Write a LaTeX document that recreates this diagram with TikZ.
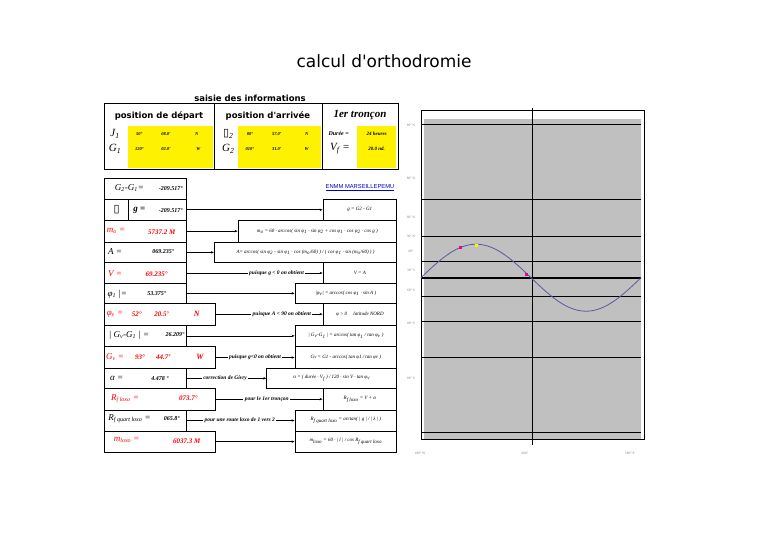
\documentclass[tikz,border=0pt]{standalone}
\usepackage{fontspec}
\setmainfont{Liberation Serif}
\newfontfamily\dejavu{DejaVu Sans}
\newfontfamily\libsans{Liberation Sans}
\usetikzlibrary{arrows.meta}

\definecolor{plotgray}{RGB}{192,192,192}
\definecolor{curveblue}{RGB}{90,90,160}
\definecolor{linkblue}{RGB}{0,0,204}

\tikzset{
  cell/.style={draw, line width=0.7pt, inner sep=0pt},
  form/.style={draw, line width=0.8pt, inner sep=0pt, font=\fontsize{5}{6}\selectfont\itshape},
  head/.style={inner sep=0pt, font=\dejavu\bfseries\fontsize{8.5}{9}\selectfont},
  lab/.style={inner sep=0pt, font=\fontsize{9}{10}\selectfont\itshape},
  val/.style={inner sep=0pt, font=\fontsize{6}{7}\selectfont\bfseries\itshape},
  rlab/.style={lab, text=red},
  rval/.style={inner sep=0pt, text=red, font=\fontsize{7}{8}\selectfont\bfseries\itshape},
  elab/.style={fill=white, inner sep=1.5pt, font=\fontsize{5.5}{6}\selectfont\bfseries\itshape},
  arr/.style={-{Stealth[length=3pt,width=2.4pt]}, line width=0.7pt},
  small/.style={inner sep=0pt, font=\fontsize{4.5}{5}\selectfont\bfseries\itshape},
  axl/.style={inner sep=0pt, text=gray, font=\fontsize{3.5}{4}\selectfont},
  mk/.style={inner sep=0pt, minimum size=3pt},
}

\begin{document}
\begin{tikzpicture}[x=1pt, y=-1pt]
    \useasboundingbox (0,0) rectangle (768,543);

    % title
    \node[font=\dejavu\fontsize{17}{20}\selectfont] (title) at (384,61) {calcul d'orthodromie};
    \node[head] (saisie) at (250,98.5) {saisie des informations};

    % input table
    \fill[yellow] (128,125.7) rectangle (213,168);
    \fill[yellow] (238,125.7) rectangle (321,168);
    \fill[yellow] (357,125.7) rectangle (396,168);
    \node[cell, minimum width=110pt, minimum height=66pt] (dep) at (159,136.7) {};
    \node[cell, minimum width=108pt, minimum height=66pt] (arr) at (268,136.7) {};
    \node[cell, minimum width=76pt, minimum height=66pt] (tron) at (360,136.7) {};
    \node[head] (hdep) at (159,115.5) {position de départ};
    \node[head] (harr) at (268,115.5) {position d'arrivée};
    \node[inner sep=0pt, font=\fontsize{11}{12}\selectfont\bfseries\itshape] (htron) at (360,115.5) {1er tronçon};

    \node[lab, font=\fontsize{11}{12}\selectfont\itshape] (jdep) at (115,133.7) {J\textsubscript{1}};
    \node[small] (latd1) at (139.3,133.7) {50°};
    \node[small] (latd2) at (166,133.7) {08.0'};
    \node[small] (latd3) at (196.7,133.7) {N};
    \node[lab, font=\fontsize{11}{12}\selectfont\itshape] (gdep) at (115,149) {G\textsubscript{1}};
    \node[small] (lond1) at (139.3,149) {120°};
    \node[small] (lond2) at (166,149) {02.0'};
    \node[small] (lond3) at (198.3,149) {W};

    \node[lab, font=\fontsize{11}{12}\selectfont\itshape] (jarr) at (228.3,133.7) {{\dejavu\upshape ▯}\textsubscript{2}};
    \node[small] (lata1) at (250,133.7) {00°};
    \node[small] (lata2) at (276.7,133.7) {57.0'};
    \node[small] (lata3) at (306.7,133.7) {N};
    \node[lab, font=\fontsize{11}{12}\selectfont\itshape] (garr) at (228.3,149) {G\textsubscript{2}};
    \node[small] (lona1) at (250,149) {010°};
    \node[small] (lona2) at (276.7,149) {31.0'};
    \node[small] (lona3) at (306.7,149) {W};

    \node[inner sep=0pt, font=\fontsize{6}{7}\selectfont\bfseries\itshape] (duree) at (338.7,133.7) {Durée =};
    \node[small, font=\fontsize{5}{6}\selectfont\bfseries\itshape] (dureev) at (376.7,133.7) {24 heures};
    \node[lab, font=\fontsize{11}{12}\selectfont\itshape] (vit) at (340,149) {V\textsubscript{f} =};
    \node[small, font=\fontsize{5}{6}\selectfont\bfseries\itshape] (vitv) at (376.7,149) {20.0 nd.};

    \node[inner sep=0pt, text=linkblue, font=\libsans\fontsize{5.8}{6}\selectfont] (link) at (360,187.7) {\underline{ENMM MARSEILLEPEMU}};

    % results, left column
    \node[cell, minimum width=82.7pt, minimum height=21.3pt] (gg) at (145.35,188.65) {};
    \node[cell, minimum width=82.7pt, minimum height=21pt] (gbox) at (145.35,209.8) {};
    \node[cell, minimum width=82.7pt, minimum height=21.7pt] (mo) at (145.35,231.15) {};
    \node[cell, minimum width=82.7pt, minimum height=20.7pt] (abox) at (145.35,252.35) {};
    \node[cell, minimum width=82.7pt, minimum height=20.6pt] (vbox) at (145.35,273) {};
    \node[cell, minimum width=82.7pt, minimum height=20pt] (phi1) at (145.35,293.3) {};
    \node[cell, minimum width=111pt, minimum height=21.7pt] (phiv) at (159.5,314.15) {};
    \node[cell, minimum width=82.7pt, minimum height=21.7pt] (gvg1) at (145.35,335.85) {};
    \node[cell, minimum width=111pt, minimum height=21.6pt] (gv) at (159.5,357.5) {};
    \node[cell, minimum width=82.7pt, minimum height=20pt] (alpha) at (145.35,378.3) {};
    \node[cell, minimum width=111pt, minimum height=21.7pt] (rloxo) at (159.5,399.15) {};
    \node[cell, minimum width=82.7pt, minimum height=21pt] (rquart) at (145.35,420.5) {};
    \node[cell, minimum width=111pt, minimum height=21.3pt] (mloxo) at (159.5,441.65) {};
    \draw[line width=0.7pt] ([xshift=24.9pt]gbox.north west) -- ([xshift=24.9pt]gbox.south west);

    \node[lab] (ggl) at (129.3,187.7) {G\textsubscript{2}-G\textsubscript{1}=};
    \node[val] (ggv) at (170.7,188.7) {-209.517°};
    \node[inner sep=0pt, font=\dejavu\fontsize{11}{12}\selectfont] (gboxl) at (116.7,209.3) {▯};
    \node[lab, font=\fontsize{9}{10}\selectfont\bfseries\itshape] (gl) at (139.3,210.3) {g =};
    \node[val] (gval) at (170.7,210.3) {-209.517°};
    \node[rlab] (mol) at (116,231.3) {m\textsubscript{o} =};
    \node[rval] (mov) at (161.7,232) {5737.2 M};
    \node[lab] (al) at (115,252) {A =};
    \node[val] (av) at (163.3,252) {069.235°};
    \node[rlab] (vl) at (115,273.3) {V =};
    \node[rval] (vv) at (156.7,274) {69.235°};
    \node[lab] (phi1l) at (115,294) {| φ\textsubscript{1} |=};
    \node[val] (phi1v) at (156.7,294) {53.375°};
    \node[rlab] (phivl) at (115,314) {φ\textsubscript{v} =};
    \node[rval] (phivd) at (136.7,314) {52°};
    \node[rval] (phivm) at (161.7,314) {20.5'};
    \node[rval, font=\fontsize{8}{9}\selectfont\bfseries\itshape] (phivh) at (196.7,314) {N};
    \node[lab] (gvg1l) at (129,335) {| G\textsubscript{v}-G\textsubscript{1} | =};
    \node[val] (gvg1v) at (175,335) {26.209°};
    \node[rlab] (gvl) at (115,357.3) {G\textsubscript{v} =};
    \node[rval] (gvd) at (140,357.3) {93°};
    \node[rval] (gvm) at (163.3,357.3) {44.7'};
    \node[rval, font=\fontsize{8}{9}\selectfont\bfseries\itshape] (gvh) at (200,357.3) {W};
    \node[lab] (alphal) at (116.7,378.3) {α =};
    \node[val] (alphav) at (160,378.3) {4.478 °};
    \node[rlab] (rloxol) at (125,398.3) {R\textsubscript{f loxo} =};
    \node[rval] (rloxov) at (188.3,398.3) {073.7°};
    \node[lab] (rquartl) at (129.5,419) {R\textsubscript{f quart loxo} =};
    \node[val] (rquartv) at (171.7,419) {065.8°};
    \node[rlab] (mloxol) at (126.7,440) {m\textsubscript{loxo} =};
    \node[rval] (mloxov) at (186.7,441) {6037.3 M};

    % formulas, right column
    \node[form, minimum width=73.7pt, minimum height=21pt] (fg) at (359.85,209.8) {g = G2 - G1};
    \node[form, minimum width=158.7pt, minimum height=21.7pt] (fmo) at (317.35,231.15) {m\textsubscript{o} = 60 · arccos( sin φ\textsubscript{1} · sin φ\textsubscript{2} + cos φ\textsubscript{1} · cos φ\textsubscript{2} · cos g )};
    \node[form, minimum width=182.4pt, minimum height=20.7pt] (fa) at (305.5,252.35) {A= arccos( sin φ\textsubscript{2} - sin φ\textsubscript{1} · cos (m\textsubscript{o}/60) ) / ( cos φ\textsubscript{1} · sin (m\textsubscript{o}/60) ) )};
    \node[form, minimum width=73.7pt, minimum height=20.6pt] (fv) at (359.85,273) {V = A};
    \node[form, minimum width=101.7pt, minimum height=20pt] (fphi1) at (345.85,293.3) {|φ\textsubscript{v}| = arccos( cos φ\textsubscript{1} · sin A )};
    \node[form, minimum width=73.7pt, minimum height=21.7pt] (fphiv) at (359.85,314.15) {φ > 0 \quad latitude NORD};
    \node[form, minimum width=101.7pt, minimum height=21.7pt] (fgvg1) at (345.85,335.85) {| G\textsubscript{v}-G\textsubscript{1} | = arccos( tan φ\textsubscript{1} / tan φ\textsubscript{v} )};
    \node[form, minimum width=101.7pt, minimum height=21.6pt] (fgv) at (345.85,357.5) {Gv = G1 - arccos( tan φ1 / tan φv )};
    \node[form, minimum width=130pt, minimum height=20pt] (falpha) at (331.7,378.3) {α = ( durée · V\textsubscript{f} ) / 120 · sin V · tan φ\textsubscript{v}};
    \node[form, minimum width=73.7pt, minimum height=21.7pt] (frloxo) at (359.85,399.15) {R\textsubscript{f loxo} = V + α};
    \node[form, minimum width=101.7pt, minimum height=21pt] (frquart) at (345.85,420.5) {R\textsubscript{f quart loxo} = arctan( | g | / | λ | )};
    \node[form, minimum width=101.7pt, minimum height=21.3pt] (fmloxo) at (345.85,441.65) {m\textsubscript{loxo} = 60 · | l | / cos R\textsubscript{f quart loxo}};

    % arrows
    \draw[arr] (gbox) -- (fg);
    \draw[arr] (mo) -- (fmo);
    \draw[arr] (abox) -- (fa);
    \draw[arr] (vbox) -- node[elab, pos=0.66] {puisque g < 0 on obtient} (fv);
    \draw[arr] (phi1) -- (fphi1);
    \draw[arr] (phiv) -- node[elab, pos=0.62] {puisque A < 90 on obtient} (fphiv);
    \draw[arr] (gvg1) -- (fgvg1);
    \draw[arr] (gv) -- node[elab, pos=0.5] {puisque g<0 on obtient} (fgv);
    \draw[arr] (alpha) -- node[elab, pos=0.48] {correction de Givry} (falpha);
    \draw[arr] (rloxo) -- node[elab, pos=0.48] {pour le 1er tronçon} (frloxo);
    \draw[arr] (rquart) -- node[elab, pos=0.49] {pour une route loxo de 1 vers 2} (frquart);
    \draw[arr] (mloxo) -- (fmloxo);

    % chart
    \fill[plotgray] (424,119.3) rectangle (640.7,439.3);
    \node[draw, line width=0.6pt, inner sep=0pt, minimum width=223.3pt, minimum height=328.8pt] (chart) at (532.65,275.1) {};
    \foreach \yy in {124.3,199.3,236,261.3,296,321.7,357.3,432.7}
        \draw[line width=0.9pt] (421,\yy) -- (640.7,\yy);
    \draw[line width=1.8pt] (421,277.7) -- (640.7,277.7);
    \draw[line width=0.9pt] (532.3,108) -- (532.3,445);
    \draw[curveblue, line width=0.8pt] plot[domain=0:220, samples=80, smooth] ({421+\x},{277.7-33.5*sin(1.63636*\x)});
    \node[mk, fill=magenta] (pdep) at (460,247.7) {};
    \node[mk, fill=yellow] (pver) at (476.7,245.5) {};
    \node[mk, fill=magenta] (parr) at (526.7,274) {};

    \node[axl] (n89) at (411,125) {89° N};
    \node[axl] (n80) at (411,178.3) {80° N};
    \node[axl] (n60) at (411,217.7) {60° N};
    \node[axl] (n30) at (411,236.7) {30° N};
    \node[axl] (eq) at (411,251) {00°};
    \node[axl] (s30) at (411,270) {30° S};
    \node[axl] (s60) at (411,290.7) {60° S};
    \node[axl] (s80) at (411,323.3) {80° S};
    \node[axl] (s89) at (411,378.3) {89° S};
    \node[axl] (w180) at (420,453.3) {180° W};
    \node[axl] (g000) at (525,453.3) {000°};
    \node[axl] (e180) at (630,453.3) {180° E};
\end{tikzpicture}
\end{document}
